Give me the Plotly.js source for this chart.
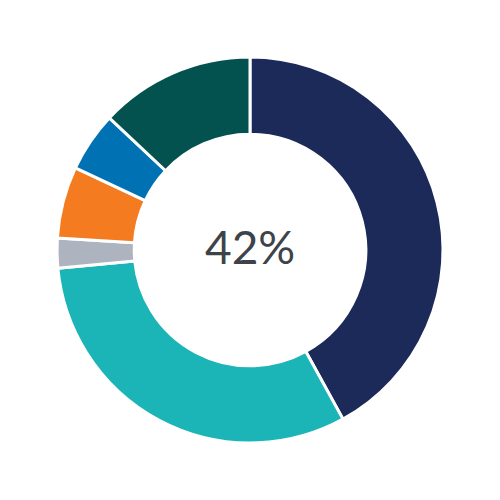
<!DOCTYPE html>
<html>
<head>
<meta charset="utf-8">
<script src="https://cdn.plot.ly/plotly-3.0.1.min.js"></script>
<style>
  html, body { margin: 0; padding: 0; background: #fff; }
  #chart { width: 500px; height: 500px; }
</style>
</head>
<body>
<div id="chart"></div>
<script>
// slices, clockwise from 12 o'clock
var labels = ['A', 'B', 'C', 'D', 'E', 'F'];
var values = [42, 31.5, 2.5, 6, 5, 13];
var colors = ['#1c2a5a', '#1bb4b7', '#adb4c0', '#f47b20', '#0072b4', '#03524f'];
var centerText = '42%';

var trace = {
    type: 'pie',
    labels: labels,
    values: values,
    hole: 0.6,
    sort: false,
    direction: 'clockwise',
    rotation: 0,
    textinfo: 'none',
    hoverinfo: 'none',
    marker: { colors: colors, line: { color: '#ffffff', width: 3 } }
};

var layout = {
    width: 500,
    height: 500,
    margin: { l: 57, r: 57, t: 57, b: 57 },
    showlegend: false,
    paper_bgcolor: '#ffffff',
    annotations: [{
        text: centerText,
        x: 0.5, y: 0.5, xref: 'paper', yref: 'paper',
        yshift: 4,
        showarrow: false,
        font: { family: 'Lato, "Open Sans", sans-serif', size: 46, color: '#3e4349' }
    }]
};

Plotly.newPlot('chart', [trace], layout, { displayModeBar: false, staticPlot: true });
</script>
</body>
</html>
